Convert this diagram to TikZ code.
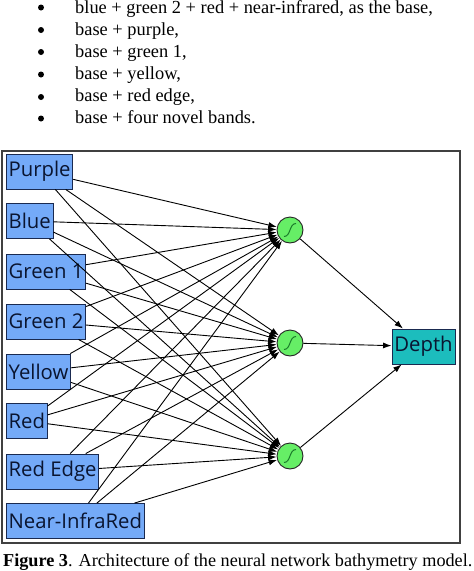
\documentclass[tikz,border=0pt]{standalone}
\usepackage{fontspec}
\setmainfont{Liberation Serif}
\newfontfamily\labfont{Open Sans}
\usetikzlibrary{arrows.meta}
\definecolor{boxblue}{HTML}{74AAF8}
\definecolor{boxedge}{HTML}{1A2A50}
\definecolor{neugreen}{HTML}{66EE66}
\definecolor{siggreen}{HTML}{1A7A2A}
\definecolor{depthteal}{HTML}{1CBDBD}
\definecolor{labtext}{HTML}{0A1530}
\tikzset{
  inbox/.style={draw=boxedge, fill=boxblue, line width=0.9pt, minimum height=35pt, inner xsep=2.2pt, inner ysep=0pt, anchor=west, font=\labfont\fontsize{20.3}{21}\selectfont, text=labtext},
  neuron/.style={circle, draw=black!85, fill=neugreen, line width=0.9pt, minimum size=26pt, inner sep=0pt},
  outbox/.style={draw=boxedge, fill=depthteal, line width=0.9pt, minimum height=35pt, minimum width=63pt, inner sep=0pt, font=\labfont\fontsize{20.3}{21}\selectfont, text=labtext},
  conn/.style={draw=black, line width=0.9pt, -{Latex[length=8.5pt,width=6pt]}},
  sig/.style={draw=siggreen, line width=1pt},
  bodytext/.style={anchor=base west, font=\fontsize{18.4}{20}\selectfont, inner sep=0pt},
  bul/.style={circle, fill=black, minimum size=6pt, inner sep=0pt}
}
\begin{document}
\begin{tikzpicture}[x=1pt,y=-1pt]
\useasboundingbox (0,0) rectangle (474,571);
% top list
\foreach \yy/\by/\t [count=\k] in {13/7.5/{blue + green 2 + red + near-infrared, as the base,},35/30/{base + purple,},57/52/{base + green 1,},79/74.5/{base + yellow,},101/97/{base + red edge,},123/118.5/{base + four novel bands.}}{
  \node[bul] (b\k) at (41,\by) {};
  \node[bodytext] (t\k) at (75,\yy) {\t};
}
% frame
\draw[draw=black!75, line width=1.4pt] (2,151) rectangle (460,543);
% inputs
\node[inbox] (i1) at (6,171.5) {Purple};
\node[inbox] (i2) at (6,221) {Blue};
\node[inbox] (i3) at (6,271.5) {Green 1};
\node[inbox] (i4) at (6,321.5) {Green 2};
\node[inbox] (i5) at (6,371.5) {Yellow};
\node[inbox] (i6) at (6,421) {Red};
\node[inbox] (i7) at (6,471.5) {Red Edge};
\node[inbox] (i8) at (6,521) {Near-InfraRed};
% hidden
\node[neuron] (h1) at (290,230) {};
\node[neuron] (h2) at (290,343) {};
\node[neuron] (h3) at (290,456) {};
\foreach \h in {h1,h2,h3}{
  \draw[sig] ([shift={(-6,6.5)}]\h.center) .. controls ([shift={(1,6.5)}]\h.center) and ([shift={(-1,-6.5)}]\h.center) .. ([shift={(6,-6.5)}]\h.center);
}
% output
\node[outbox] (d) at (423.5,346.5) {Depth};
% connections
\foreach \i in {i1,i2,i3,i4,i5,i6,i7,i8}{
  \foreach \h in {h1,h2,h3}{
    \draw[conn] (\i) -- (\h);
  }
}
\foreach \h in {h1,h2,h3}{
  \draw[conn] (\h) -- (d);
}
% caption
\node[anchor=base west, inner sep=0pt, font=\fontsize{18.2}{20}\selectfont] (cap) at (3,566) {\textbf{Figure 3}. Architecture of the neural network bathymetry model.};
\end{tikzpicture}
\end{document}
